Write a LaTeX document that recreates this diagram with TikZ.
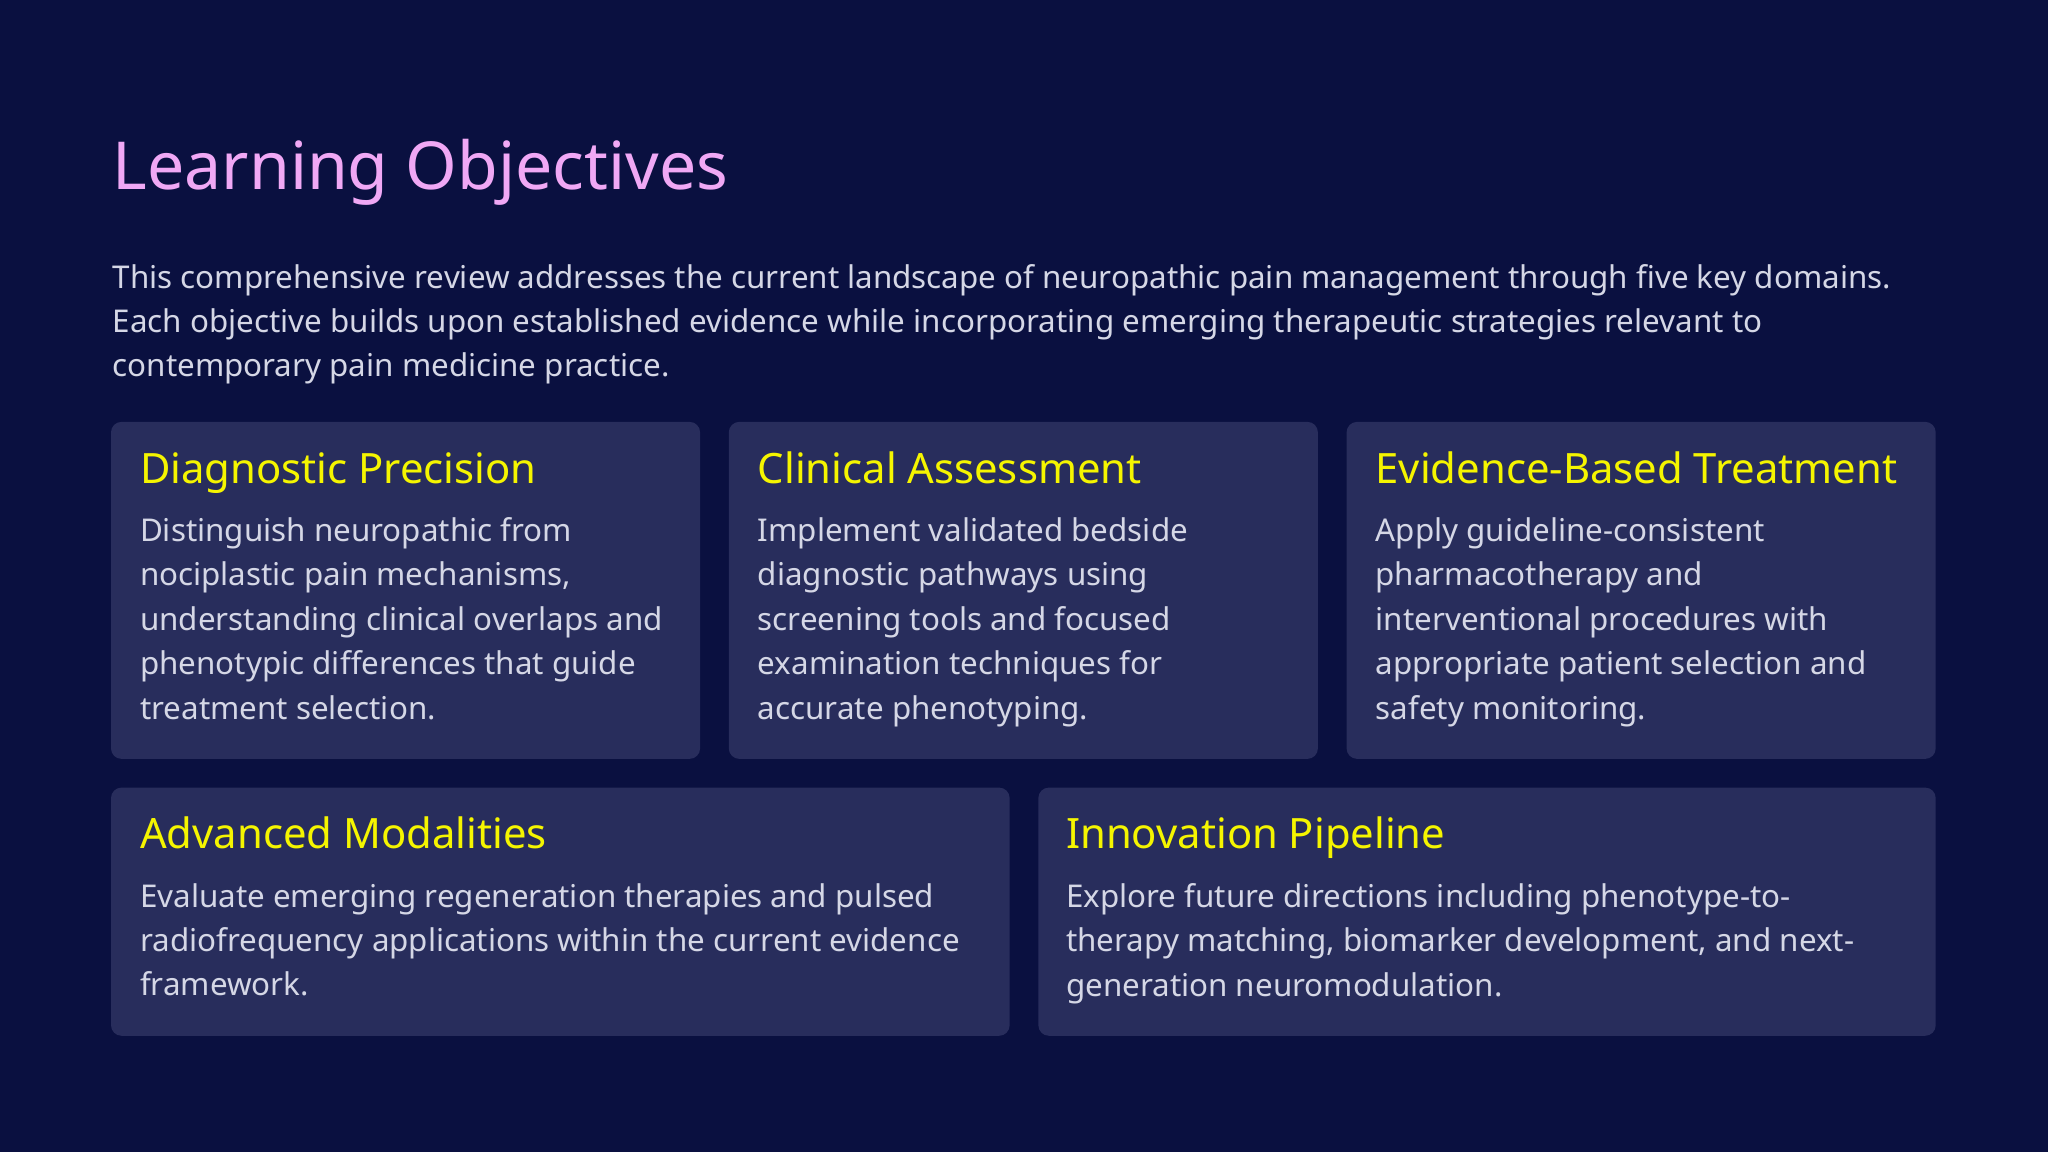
\documentclass[tikz,border=0pt]{standalone}
\usepackage{fontspec}
\setmainfont{Noto Sans}
\definecolor{bg}{HTML}{0A1040}
\definecolor{card}{HTML}{282D5C}
\definecolor{ttl}{HTML}{F0A8F5}
\definecolor{hd}{HTML}{F5F500}
\definecolor{tx}{HTML}{D5D7E6}
\begin{document}
\begin{tikzpicture}[x=0.75pt,y=-0.75pt,
  cardbox/.style={fill=card,draw=none,rounded corners=6pt},
  head/.style={anchor=base west,inner sep=0,text=hd,font=\fontsize{24}{30}\selectfont\bfseries},
  para/.style={anchor=north west,inner sep=0,text=tx,align=left,font=\fontsize{18}{25.5}\selectfont}]
\fill[bg] (0,0) rectangle (1568,882);
\useasboundingbox (0,0) rectangle (1568,882);
\node[anchor=base west,inner sep=0,text=ttl,font=\fontsize{38}{44}\selectfont\bfseries] (title) at (86,145) {Learning Objectives};
\node[para] (intro) at (86,202) {This comprehensive review addresses the current landscape of neuropathic pain management through five key domains.\\Each objective builds upon established evidence while incorporating emerging therapeutic strategies relevant to\\contemporary pain medicine practice.};
\path[cardbox] (85,323) rectangle (536,581) node[midway] (c1) {};
\path[cardbox] (558,323) rectangle (1009,581) node[midway] (c2) {};
\path[cardbox] (1031,323) rectangle (1482,581) node[midway] (c3) {};
\path[cardbox] (85,603) rectangle (773,793) node[midway] (c4) {};
\path[cardbox] (795,603) rectangle (1482,793) node[midway] (c5) {};
\node[head] (h1) at (107,370) {Diagnostic Precision};
\node[head] (h2) at (580,370) {Clinical Assessment};
\node[head] (h3) at (1053,370) {Evidence-Based Treatment};
\node[head] (h4) at (107,650) {Advanced Modalities};
\node[head] (h5) at (816,650) {Innovation Pipeline};
\node[para] (p1) at (107,396) {Distinguish neuropathic from\\nociplastic pain mechanisms,\\understanding clinical overlaps and\\phenotypic differences that guide\\treatment selection.};
\node[para] (p2) at (580,396) {Implement validated bedside\\diagnostic pathways using\\screening tools and focused\\examination techniques for\\accurate phenotyping.};
\node[para] (p3) at (1053,396) {Apply guideline-consistent\\pharmacotherapy and\\interventional procedures with\\appropriate patient selection and\\safety monitoring.};
\node[para] (p4) at (107,676) {Evaluate emerging regeneration therapies and pulsed\\radiofrequency applications within the current evidence\\framework.};
\node[para] (p5) at (816,676) {Explore future directions including phenotype-to-\\therapy matching, biomarker development, and next-\\generation neuromodulation.};
\end{tikzpicture}
\end{document}
